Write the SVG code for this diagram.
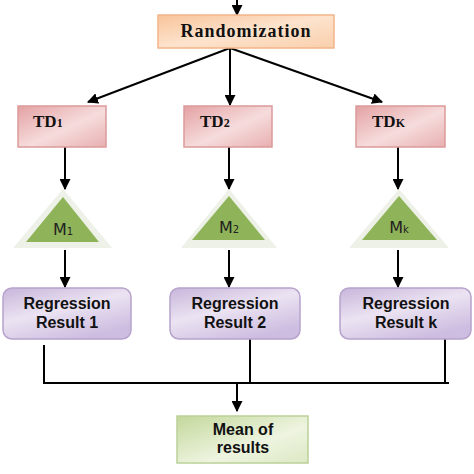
<svg xmlns="http://www.w3.org/2000/svg" width="474" height="474" viewBox="0 0 474 474">
<defs>
<linearGradient id="gRand" x1="0" y1="0" x2="1" y2="1"><stop offset="0" stop-color="#f8c49a"/><stop offset="0.5" stop-color="#fde3cd"/><stop offset="1" stop-color="#f9cfac"/></linearGradient>
<linearGradient id="gTD" x1="0" y1="0" x2="1" y2="1"><stop offset="0" stop-color="#e4a1a3"/><stop offset="0.55" stop-color="#f6dcdc"/><stop offset="1" stop-color="#e8afb0"/></linearGradient>
<linearGradient id="gReg" x1="0" y1="0" x2="0.6" y2="1"><stop offset="0" stop-color="#c8b5da"/><stop offset="0.5" stop-color="#ebe3f2"/><stop offset="1" stop-color="#cdbde0"/></linearGradient>
<linearGradient id="gMean" x1="0" y1="0" x2="1" y2="1"><stop offset="0" stop-color="#c3d89b"/><stop offset="0.6" stop-color="#eef4e0"/><stop offset="1" stop-color="#dce8c4"/></linearGradient>
<marker id="ah" viewBox="0 0 10 10" refX="9" refY="5" markerWidth="5.5" markerHeight="5.5" orient="auto" markerUnits="strokeWidth"><path d="M0,0 L10,5 L0,10 z" fill="#000"/></marker>
</defs>
<style>
.ln{stroke:#000;stroke-width:2;fill:none}
.ar{marker-end:url(#ah)}
.rand{fill:url(#gRand);stroke:#f3b58a;stroke-width:1.5}
.td{fill:url(#gTD);stroke:#dc9a9b;stroke-width:1.5}
.tri-o{fill:#edf1e8}
.tri{fill:#8fb358}
.reg{fill:url(#gReg);stroke:#b7a3cc;stroke-width:1.5}
.mean{fill:url(#gMean);stroke:#bcd199;stroke-width:1.5}
.ser{font-family:"Liberation Serif","Times New Roman",serif;font-weight:bold;fill:#111}
.san{font-family:"Liberation Sans",Arial,sans-serif;font-weight:bold;fill:#111;font-size:16px;text-anchor:middle}
.m{font-family:"DejaVu Sans",sans-serif;fill:#222;font-size:16px;text-anchor:middle}
</style>
<g id="connectors">
<line class="ln ar" x1="237" y1="0" x2="237" y2="15"/>
<line class="ln ar" x1="230" y1="48" x2="88" y2="102"/>
<line class="ln ar" x1="230" y1="48" x2="230" y2="105"/>
<line class="ln ar" x1="230" y1="48" x2="382" y2="102"/>
<line class="ln ar" x1="65" y1="147" x2="65" y2="189"/>
<line class="ln ar" x1="229" y1="147" x2="229" y2="189"/>
<line class="ln ar" x1="398" y1="147" x2="398" y2="189"/>
<line class="ln ar" x1="65" y1="250" x2="65" y2="287"/>
<line class="ln ar" x1="229" y1="250" x2="229" y2="287"/>
<line class="ln ar" x1="398" y1="250" x2="398" y2="287"/>
<polyline class="ln" points="44,345 44,383 449,383"/>
<line class="ln" x1="250" y1="339" x2="250" y2="383"/>
<line class="ln" x1="445" y1="339" x2="445" y2="383"/>
<line class="ln ar" x1="237" y1="383" x2="237" y2="411"/>
</g>
<g id="randomization">
<rect class="rand" x="158" y="15" width="176" height="33"/>
<text class="ser" x="246" y="37" font-size="18" letter-spacing="1" text-anchor="middle">Randomization</text>
</g>
<g id="td1">
<rect class="td" x="18" y="106" width="88" height="41"/>
<text class="ser" x="33" y="127" font-size="17">TD<tspan font-size="12">1</tspan></text>
</g>
<g id="td2">
<rect class="td" x="184" y="106" width="88" height="41"/>
<text class="ser" x="200" y="127" font-size="17">TD<tspan font-size="12">2</tspan></text>
</g>
<g id="tdk">
<rect class="td" x="356" y="106" width="89" height="41"/>
<text class="ser" x="372" y="127" font-size="17">TD<tspan font-size="12">K</tspan></text>
</g>
<g id="m1">
<polygon class="tri-o" points="63,189 112,248 13,248"/>
<polygon class="tri" points="63,197 99,242 26,242"/>
<text class="m" x="63" y="235">M<tspan font-size="10">1</tspan></text>
</g>
<g id="m2">
<polygon class="tri-o" points="229,189 277,248 181,248"/>
<polygon class="tri" points="229,196 265,240 192,240"/>
<text class="m" x="229" y="233">M<tspan font-size="10">2</tspan></text>
</g>
<g id="mk">
<polygon class="tri-o" points="399,189 449,248 349,248"/>
<polygon class="tri" points="399,196 437,240 362,240"/>
<text class="m" x="399" y="233">M<tspan font-size="10">k</tspan></text>
</g>
<g id="reg1">
<rect class="reg" x="3" y="288" width="128" height="51" rx="9"/>
<text class="san" x="67" y="309">Regression</text>
<text class="san" x="67" y="328">Result 1</text>
</g>
<g id="reg2">
<rect class="reg" x="170" y="288" width="130" height="51" rx="9"/>
<text class="san" x="235" y="309">Regression</text>
<text class="san" x="235" y="328">Result 2</text>
</g>
<g id="regk">
<rect class="reg" x="340" y="288" width="131" height="51" rx="9"/>
<text class="san" x="406" y="309">Regression</text>
<text class="san" x="406" y="328">Result k</text>
</g>
<g id="mean">
<rect class="mean" x="177" y="416" width="131" height="47"/>
<text class="san" x="243" y="435">Mean of</text>
<text class="san" x="243" y="453">results</text>
</g>
</svg>
